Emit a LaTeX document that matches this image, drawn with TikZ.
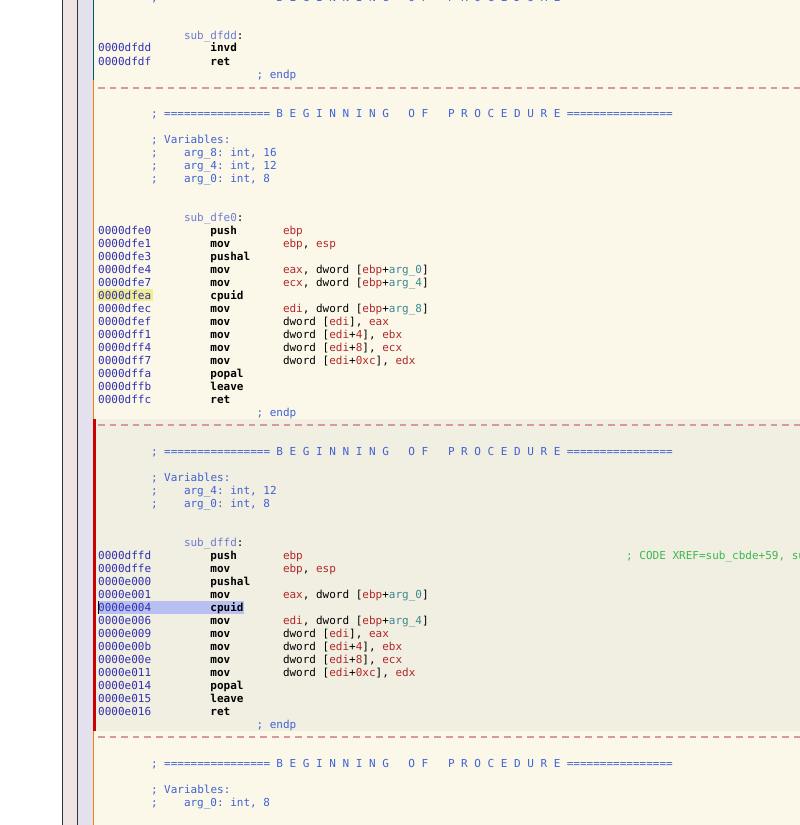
\documentclass[tikz,border=0pt]{standalone}
\usepackage{fontspec}
\setmonofont{DejaVu Sans Mono}
\definecolor{addr}{HTML}{3030B0}
\definecolor{reg}{HTML}{B02828}
\definecolor{argc}{HTML}{3A8890}
\definecolor{cmt}{HTML}{3F63D3}
\definecolor{sublbl}{HTML}{6C7ED0}
\definecolor{grn}{HTML}{3CB94E}
\definecolor{dashc}{HTML}{D898A2}
\definecolor{cream}{HTML}{FBF8EA}
\definecolor{graybg}{HTML}{F1EEE2}
\definecolor{pinkst}{HTML}{EFE3E3}
\definecolor{lavst}{HTML}{E4E1EF}
\definecolor{hl}{HTML}{B8C0F2}
\definecolor{yl}{HTML}{F0EE90}
\newcounter{nn}
\newcommand\rg[1]{\textcolor{reg}{#1}}
\newcommand\ag[1]{\textcolor{argc}{#1}}
\newcommand\tx[4][black]{\stepcounter{nn}\node[txt,text=#1] (t\thenn) at ({98+#2*6.6},{-(#3)-4}) {#4};}
\newcommand\ins[4]{\tx[addr]{0}{#1}{#2}\tx{17}{#1}{\textbf{#3}}\tx{28}{#1}{#4}}
\newcommand\banner[1]{\tx[cmt]{8}{#1}{;~================}\tx[cmt]{27}{#1}{B~E~G~I~N~N~I~N~G}\tx[cmt]{47}{#1}{O~F}\tx[cmt]{53}{#1}{P~R~O~C~E~D~U~R~E}\tx[cmt]{71}{#1}{================}}
\newcommand\var[3]{\tx[cmt]{8}{#1}{;}\tx[cmt]{13}{#1}{#2: int, #3}}
\newcommand\dash[1]{\draw[dashc,line width=1.2pt,dash pattern=on 6.6pt off 5pt] (98,-#1) -- (800,-#1);}
\begin{document}
\begin{tikzpicture}[x=1pt,y=1pt,txt/.style={anchor=base west,inner sep=0pt,font=\ttfamily\fontsize{11}{13}\selectfont}]
\useasboundingbox (0,0) rectangle (800,-825);
\begin{scope}
\clip (0,0) rectangle (800,-825);
\fill[white] (0,0) rectangle (62,-825);
\fill[pinkst] (62,0) rectangle (77,-825);
\fill[lavst] (77,0) rectangle (93,-825);
\draw[gray!40!black,line width=1pt] (62.5,0) -- (62.5,-825) (77.5,0) -- (77.5,-825);
\fill[cream] (93,0) rectangle (800,-825);
\fill[graybg] (93,-419) rectangle (800,-731);
\draw[teal!70!black,line width=1pt] (93.5,0) -- (93.5,-80);
\draw[orange!70!brown,line width=1pt] (93.5,-80) -- (93.5,-419) (93.5,-731) -- (93.5,-825);
\fill[red!80!black] (93,-419) rectangle (96,-731);
\fill[hl] (98,-601) rectangle (244,-614);
\fill[yl] (97,-289) rectangle (153,-301);
% top
\banner{-3}
\tx[sublbl]{13}{35}{sub\_dfdd\textcolor{black}{:}}
\ins{47}{0000dfdd}{invd}{}
\ins{61}{0000dfdf}{ret}{}
\tx[cmt]{24}{74}{; endp}
\dash{88}
\banner{113}
\tx[cmt]{8}{139}{; Variables:}
\var{152}{arg\_8}{16}
\var{165}{arg\_4}{12}
\var{178}{arg\_0}{8}
\tx[sublbl]{13}{217}{sub\_dfe0\textcolor{black}{:}}
\ins{230}{0000dfe0}{push}{\rg{ebp}}
\ins{243}{0000dfe1}{mov}{\rg{ebp}, \rg{esp}}
\ins{256}{0000dfe3}{pushal}{}
\ins{269}{0000dfe4}{mov}{\rg{eax}, dword [\rg{ebp}+\ag{arg\_0}]}
\ins{282}{0000dfe7}{mov}{\rg{ecx}, dword [\rg{ebp}+\ag{arg\_4}]}
\ins{295}{0000dfea}{cpuid}{}
\ins{308}{0000dfec}{mov}{\rg{edi}, dword [\rg{ebp}+\ag{arg\_8}]}
\ins{321}{0000dfef}{mov}{dword [\rg{edi}], \rg{eax}}
\ins{334}{0000dff1}{mov}{dword [\rg{edi}+\rg{4}], \rg{ebx}}
\ins{347}{0000dff4}{mov}{dword [\rg{edi}+\rg{8}], \rg{ecx}}
\ins{360}{0000dff7}{mov}{dword [\rg{edi}+\rg{0xc}], \rg{edx}}
\ins{373}{0000dffa}{popal}{}
\ins{386}{0000dffb}{leave}{}
\ins{399}{0000dffc}{ret}{}
\tx[cmt]{24}{412}{; endp}
\dash{425}
\banner{451}
\tx[cmt]{8}{477}{; Variables:}
\var{490}{arg\_4}{12}
\var{503}{arg\_0}{8}
\tx[sublbl]{13}{542}{sub\_dffd\textcolor{black}{:}}
\ins{555}{0000dffd}{push}{\rg{ebp}}
\tx[grn]{80}{555}{; CODE XREF=sub\_cbde+59, sub\_cbde+90}
\ins{568}{0000dffe}{mov}{\rg{ebp}, \rg{esp}}
\ins{581}{0000e000}{pushal}{}
\ins{594}{0000e001}{mov}{\rg{eax}, dword [\rg{ebp}+\ag{arg\_0}]}
\ins{607}{0000e004}{cpuid}{}
\draw[black,line width=0.8pt] (98.5,-601) -- (98.5,-614);
\ins{620}{0000e006}{mov}{\rg{edi}, dword [\rg{ebp}+\ag{arg\_4}]}
\ins{633}{0000e009}{mov}{dword [\rg{edi}], \rg{eax}}
\ins{646}{0000e00b}{mov}{dword [\rg{edi}+\rg{4}], \rg{ebx}}
\ins{659}{0000e00e}{mov}{dword [\rg{edi}+\rg{8}], \rg{ecx}}
\ins{672}{0000e011}{mov}{dword [\rg{edi}+\rg{0xc}], \rg{edx}}
\ins{685}{0000e014}{popal}{}
\ins{698}{0000e015}{leave}{}
\ins{711}{0000e016}{ret}{}
\tx[cmt]{24}{724}{; endp}
\dash{737}
\banner{763}
\tx[cmt]{8}{789}{; Variables:}
\var{802}{arg\_0}{8}
\end{scope}
\end{tikzpicture}
\end{document}
